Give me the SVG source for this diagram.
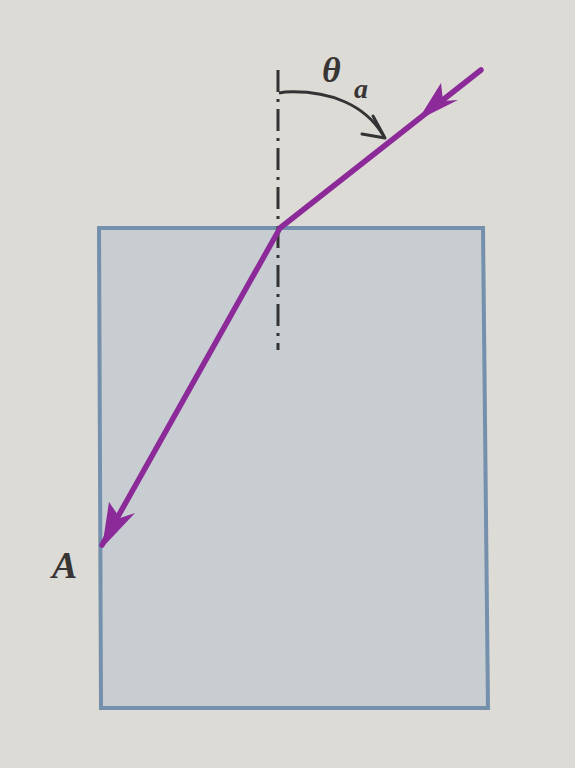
<svg xmlns="http://www.w3.org/2000/svg" width="575" height="768" viewBox="0 0 575 768">
<defs>
<style>
.ray{fill:none;stroke:#8b2a98;stroke-width:5.5;stroke-linecap:round;stroke-linejoin:round}
.head{fill:#8b2a98}
.lbl{font-family:"Liberation Serif",serif;font-style:italic;font-weight:bold;fill:#3a3535}
</style>
</defs>
<rect width="575" height="768" fill="#dddbd6"/>
<g id="block">
<polygon points="99,228 483,228 488,708 101,708" fill="#c7cdd1" stroke="#7490ad" stroke-width="4"/>
</g>
<g id="normal">
<line x1="278" y1="70" x2="278" y2="350" stroke="#333" stroke-width="3" stroke-dasharray="22,7,3,7"/>
</g>
<g id="angle">
<path d="M279,93 L285,92 C330,90 365,105 383,135" fill="none" stroke="#333" stroke-width="3"/>
<path d="M385,138 L373,116 M385,138 L362,134" fill="none" stroke="#333" stroke-width="3" stroke-linecap="round"/>
<text class="lbl" x="322" y="82" font-size="36">θ</text>
<text class="lbl" x="354" y="98" font-size="28">a</text>
</g>
<g id="connectors">
<polyline class="ray" points="481,70 280,228 102,545"/>
<polygon class="head" points="418,120 441,83 443,101 458,100"/>
<polygon class="head" points="102,548 109,502 120,518 135,513"/>
</g>
<g id="labelA">
<text class="lbl" x="52" y="578" font-size="38">A</text>
</g>
</svg>
